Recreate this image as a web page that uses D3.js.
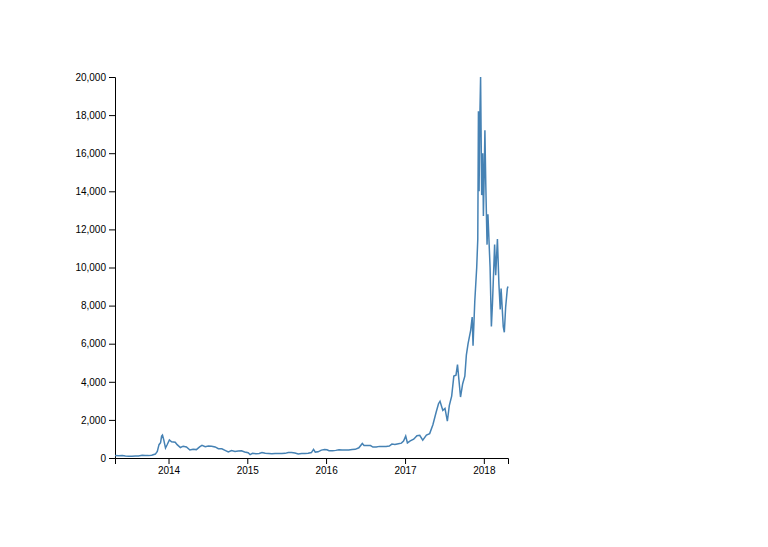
<!DOCTYPE html>
<html><head><meta charset="utf-8">
<script src="https://cdn.jsdelivr.net/npm/d3@7"></script>
<style>body{margin:0;background:#fff}svg text{font-family:"Helvetica Neue",Arial,"Liberation Sans",sans-serif}</style>
</head><body><svg width="768" height="547"></svg>
<script>
// approximate bitcoin close prices
const dates = ["2013-04-28","2013-05-15","2013-06-01","2013-06-15","2013-07-01","2013-07-15","2013-08-01","2013-08-15","2013-09-01","2013-09-15","2013-10-01","2013-10-15","2013-11-01","2013-11-10","2013-11-18","2013-11-25","2013-11-30","2013-12-04","2013-12-10","2013-12-18","2013-12-25",
"2014-01-05","2014-01-15","2014-02-01","2014-02-10","2014-02-25","2014-03-10","2014-03-25","2014-04-10","2014-04-25","2014-05-10","2014-05-25","2014-06-05","2014-06-20","2014-07-05","2014-07-20","2014-08-05","2014-08-20","2014-09-05","2014-09-20","2014-10-05","2014-10-20","2014-11-05","2014-11-20","2014-12-05","2014-12-20",
"2015-01-05","2015-01-14","2015-01-25","2015-02-10","2015-02-25","2015-03-10","2015-03-25","2015-04-10","2015-04-25","2015-05-10","2015-05-25","2015-06-10","2015-06-25","2015-07-10","2015-07-25","2015-08-10","2015-08-25","2015-09-10","2015-09-25","2015-10-10","2015-10-25","2015-11-04","2015-11-12","2015-11-25","2015-12-10","2015-12-25",
"2016-01-05","2016-01-15","2016-01-31","2016-02-15","2016-03-01","2016-03-15","2016-04-01","2016-04-15","2016-05-01","2016-05-15","2016-06-01","2016-06-17","2016-06-25","2016-07-10","2016-07-25","2016-08-05","2016-08-20","2016-09-05","2016-09-20","2016-10-05","2016-10-20","2016-11-01","2016-11-15","2016-12-01","2016-12-15","2016-12-25",
"2017-01-04","2017-01-12","2017-01-25","2017-02-10","2017-02-25","2017-03-10","2017-03-24","2017-04-10","2017-04-25","2017-05-10","2017-05-25","2017-06-05","2017-06-12","2017-06-25","2017-07-05","2017-07-16","2017-07-25","2017-08-05","2017-08-15","2017-08-25","2017-09-01","2017-09-15","2017-09-25","2017-10-05","2017-10-12","2017-10-20","2017-11-01","2017-11-08","2017-11-12","2017-11-20","2017-11-29","2017-12-04","2017-12-07","2017-12-10","2017-12-13","2017-12-17","2017-12-22","2017-12-27","2017-12-30",
"2018-01-03","2018-01-06","2018-01-10","2018-01-16","2018-01-20","2018-01-30","2018-02-05","2018-02-10","2018-02-20","2018-02-25","2018-03-05","2018-03-12","2018-03-18","2018-03-22","2018-04-01","2018-04-06","2018-04-12","2018-04-20","2018-04-23"];
const prices = [135,115,129,100,90,98,105,110,140,130,125,150,205,340,700,800,1150,1200,950,520,680,
950,850,830,700,550,620,580,420,460,440,580,660,590,630,620,580,490,480,400,320,390,340,370,375,320,
275,180,250,220,240,290,245,235,225,240,237,230,243,285,290,265,210,240,235,245,285,450,310,325,415,450,
430,380,375,400,430,415,415,425,450,455,535,760,660,650,655,575,580,610,610,610,630,730,710,750,780,890,
1150,790,895,990,1170,1190,940,1200,1280,1750,2400,2850,2980,2500,2600,1930,2750,3250,4300,4350,4900,3200,3900,4300,5400,6000,6700,7400,5900,8200,10000,11500,18200,14000,17500,20000,13800,16000,12700,
15000,17200,14400,11200,12800,10000,6900,8100,11200,9600,11500,9100,7800,8900,6900,6600,7900,8900,9000];
const yTicks = [0,2000,4000,6000,8000,10000,12000,14000,16000,18000,20000];

const parse = d3.timeParse("%Y-%m-%d");
const data = dates.map((d, i) => ({date: parse(d), price: prices[i]}));

const margin = {left: 115, top: 77, right: 260, bottom: 89};
const svg = d3.select("svg");
const w = 768 - margin.left - margin.right, h = 547 - margin.top - margin.bottom;
const g = svg.append("g").attr("transform", `translate(${margin.left},${margin.top})`);

const x = d3.scaleTime().domain(d3.extent(data, d => d.date)).range([0, w]);
const y = d3.scaleLinear().domain([0, 20000]).range([h, 0]);

g.append("g").attr("transform", `translate(0,${h})`).call(d3.axisBottom(x).ticks(d3.timeYear));
g.append("g").call(d3.axisLeft(y).tickValues(yTicks).tickFormat(d3.format(",")));

g.append("path").datum(data)
  .attr("fill", "none").attr("stroke", "steelblue").attr("stroke-width", 1.5)
  .attr("d", d3.line().x(d => x(d.date)).y(d => y(d.price)));
</script></body></html>
